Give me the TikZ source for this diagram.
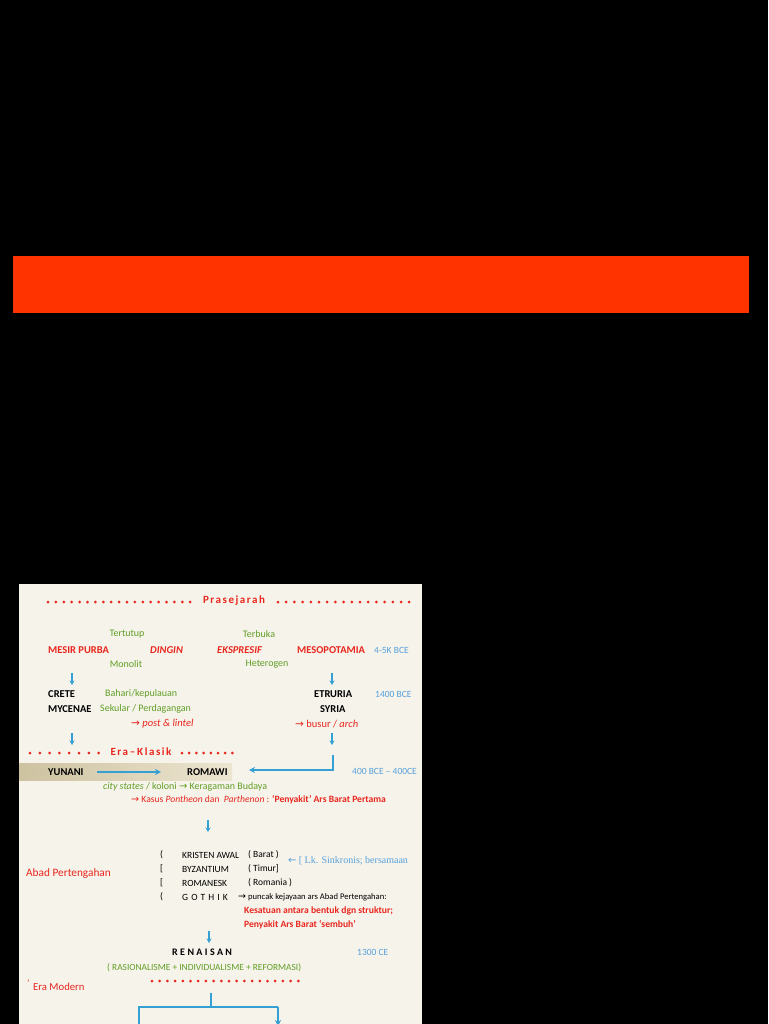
\documentclass[tikz,border=0pt]{standalone}
\usepackage{fontspec}
\setmainfont{Carlito}
\newfontfamily\symf{DejaVu Sans}
\newfontfamily\serf{Liberation Serif}
\usetikzlibrary{arrows.meta}
\definecolor{cred}{RGB}{232,38,30}
\definecolor{cgreen}{RGB}{96,158,38}
\definecolor{cblue}{RGB}{52,160,212}
\definecolor{ctblue}{RGB}{86,160,220}
\definecolor{cream}{RGB}{246,243,234}
\definecolor{bar}{RGB}{255,51,0}
\definecolor{bandL}{RGB}{205,194,160}
\definecolor{bandR}{RGB}{236,229,208}
\newcommand{\rarr}{{\symf\char"2192}}
\newcommand{\larr}{{\symf\char"2190}}
\tikzset{
  lbl/.style={inner sep=0pt, anchor=west, font=\fontsize{10.5}{11}\selectfont\bfseries},
  sm/.style={inner sep=0pt, anchor=west, font=\fontsize{10}{11}\selectfont},
  dt/.style={inner sep=0pt, anchor=west, font=\fontsize{9.5}{10}\selectfont},
  mid/.style={inner sep=0pt, anchor=west, font=\fontsize{9.5}{10}\selectfont},
  rd/.style={text=cred},
  gr/.style={text=cgreen},
  bl/.style={text=ctblue},
  bk/.style={text=black},
  downarr/.style={draw=cblue, line width=1.2pt, -{Stealth[length=4.5pt,width=5pt]}},
  conn/.style={draw=cblue, line width=1.2pt},
}
\begin{document}
\begin{tikzpicture}[x=1pt,y=-1pt]
\useasboundingbox (0,0) rectangle (768,1024);
\fill[black] (0,0) rectangle (768,1024);
\fill[bar] (13,256) rectangle (749,313);
\fill[cream] (19,584) rectangle (422,1024);
\begin{scope}
\clip (19,584) rectangle (422,1024);
% Prasejarah
\foreach \i in {0,...,18} \fill[cred] (48+\i*7.9,602) circle (1.5);
\foreach \i in {0,...,16} \fill[cred] (278+\i*8.2,602) circle (1.5);
\node[inner sep=0pt, rd, anchor=center, font=\fontsize{11}{12}\selectfont\bfseries\addfontfeature{LetterSpace=14}] (prasejarah) at (234,601) {Prasejarah};
% top row
\node[sm, gr, anchor=center] (tertutup) at (127,634) {Tertutup};
\node[sm, gr, anchor=center] (terbuka) at (259,634) {Terbuka};
\node[lbl, rd] (mesir) at (48,650) {MESIR PURBA};
\node[lbl, rd, font=\fontsize{10.5}{11}\selectfont\bfseries\itshape] (dingin) at (150,650) {DINGIN};
\node[lbl, rd, font=\fontsize{10.5}{11}\selectfont\bfseries\itshape] (ekspresif) at (217,650) {EKSPRESIF};
\node[lbl, rd] (meso) at (297,650) {MESOPOTAMIA};
\node[dt, bl] (d1) at (374,650) {4-5K BCE};
\node[sm, gr, anchor=center] (monolit) at (126,664) {Monolit};
\node[sm, gr, anchor=center] (heterogen) at (267,664) {Heterogen};
\coordinate (a1s) at (72,673); \coordinate (a1e) at (72,685);
\coordinate (a2s) at (332,673); \coordinate (a2e) at (332,685);
\draw[downarr] (a1s) -- (a1e);
\draw[downarr] (a2s) -- (a2e);
% second block
\node[lbl, bk] (crete) at (48,694) {CRETE};
\node[sm, gr] (bahari) at (105,694) {Bahari/kepulauan};
\node[lbl, bk] (etruria) at (314,694) {ETRURIA};
\node[dt, bl] (d2) at (375,694) {1400 BCE};
\node[lbl, bk] (mycenae) at (48,709) {MYCENAE};
\node[sm, gr] (sekular) at (100,709) {Sekular / Perdagangan};
\node[lbl, bk] (syria) at (320,709) {SYRIA};
\node[sm, rd, font=\fontsize{10.5}{11}\selectfont] (post) at (131,724) {\rarr{} \textit{post \& lintel}};
\node[sm, rd, font=\fontsize{10.5}{11}\selectfont] (busur) at (295,724) {\rarr{} busur / \textit{arch}};
\coordinate (a3s) at (72,733); \coordinate (a3e) at (72,745);
\coordinate (a4s) at (332,733); \coordinate (a4e) at (332,745);
\draw[downarr] (a3s) -- (a3e);
\draw[downarr] (a4s) -- (a4e);
% Era Klasik
\foreach \i in {0,...,7} \fill[cred] (30+\i*9.8,753) circle (1.5);
\foreach \i in {0,...,7} \fill[cred] (182+\i*7.2,753) circle (1.5);
\node[inner sep=0pt, rd, anchor=center, font=\fontsize{11}{12}\selectfont\bfseries\addfontfeature{LetterSpace=14}] (klasik) at (141,752) {Era\,--\,Klasik};
\shade[left color=bandL, right color=bandR] (19,763) rectangle (232,780);
\node[lbl, bk] (yunani) at (48,772) {YUNANI};
\node[lbl, bk] (romawi) at (187,772) {ROMAWI};
\coordinate (y1) at (97,772); \coordinate (y2) at (161,772);
\draw[conn, -{Stealth[length=6pt,width=6pt]}] (y1) -- (y2);
\coordinate (e1) at (333,755); \coordinate (e2) at (333,770); \coordinate (e3) at (249,770);
\draw[conn, -{Stealth[length=6pt,width=6pt]}] (e1) -- (e2) -- (e3);
\node[dt, bl] (d3) at (352,771) {400 BCE -- 400CE};
\node[sm, gr] (city) at (103,787) {\textit{city states} / koloni \rarr{} Keragaman Budaya};
\node[mid, rd, font=\fontsize{9.6}{10}\selectfont] (kasus) at (131,800) {\rarr{} Kasus \textit{Pontheon} dan \ \textit{Parthenon} : \textbf{`Penyakit' Ars Barat Pertama}};
\coordinate (a5s) at (208,820); \coordinate (a5e) at (208,832);
\draw[downarr] (a5s) -- (a5e);
% Abad Pertengahan
\node[sm, rd, font=\fontsize{11.3}{12}\selectfont] (abad) at (26,874) {Abad Pertengahan};
\node[mid, bk] (b1) at (160,855) {(};
\node[mid, bk] (b2) at (160,869) {[};
\node[mid, bk] (b3) at (160,883) {[};
\node[mid, bk] (b4) at (160,897) {(};
\node[mid, bk] (kristen) at (182,855) {KRISTEN AWAL};
\node[mid, bk] (barat) at (248,855) {( Barat )};
\node[mid, bk] (byz) at (182,869) {BYZANTIUM};
\node[mid, bk] (timur) at (248,869) {( Timur]};
\node[mid, bk] (roman) at (182,883) {ROMANESK};
\node[mid, bk] (romania) at (248,883) {( Romania )};
\node[mid, bk, font=\fontsize{9.5}{10}\selectfont\addfontfeature{LetterSpace=33}] (gothik) at (182,897) {GOTHIK};
\node[mid, bk] (garr) at (238,897) {\rarr};
\node[mid, bk, font=\fontsize{8.6}{9}\selectfont] (puncak) at (248,897) {puncak kejayaan ars Abad Pertengahan:};
\node[mid, bl, font=\fontsize{10}{11}\selectfont] (sinkron) at (288,861) {\larr{} {\serf [ Lk. Sinkronis; bersamaan}};
\node[mid, rd, font=\fontsize{9.6}{10}\selectfont\bfseries] (kesatuan) at (244,911) {Kesatuan antara bentuk dgn struktur;};
\node[mid, rd, font=\fontsize{9.6}{10}\selectfont\bfseries] (sembuh) at (244,925) {Penyakit Ars Barat `sembuh'};
\coordinate (a6s) at (209,931); \coordinate (a6e) at (209,943);
\draw[downarr] (a6s) -- (a6e);
% Renaisan
\node[lbl, bk, font=\fontsize{10}{11}\selectfont\bfseries\addfontfeature{LetterSpace=24}] (renaisan) at (172,952) {RENAISAN};
\node[dt, bl] (d4) at (357,952) {1300 CE};
\node[sm, gr, font=\fontsize{9.4}{10}\selectfont] (rasio) at (107,968) {( RASIONALISME + INDIVIDUALISME + REFORMASI)};
\node[sm, rd, font=\fontsize{10.7}{11}\selectfont] (eramodern) at (33,987) {Era Modern};
\node[dt, rd] (tick) at (27,983) {'};
\foreach \i in {0,...,19} \fill[cred] (152+\i*7.7,981) circle (1.5);
% tree
\coordinate (t0) at (211,993); \coordinate (t1) at (211,1007);
\coordinate (tl) at (139,1007); \coordinate (tr) at (278,1007);
\coordinate (tlb) at (139,1030); \coordinate (trb) at (278,1026);
\draw[conn] (t0) -- (t1);
\draw[conn] (tlb) -- (tl) -- (tr);
\draw[conn, -{Stealth[length=6pt,width=6pt]}] (tr) -- (trb);
\end{scope}
\end{tikzpicture}
\end{document}
